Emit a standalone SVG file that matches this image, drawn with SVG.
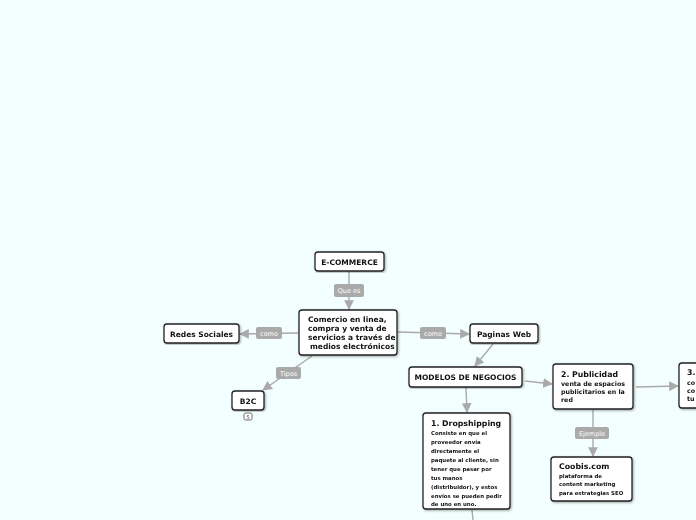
<svg xmlns="http://www.w3.org/2000/svg" width="696" height="520" viewBox="0 0 696 520">
<defs>
<style>
.n rect{fill:#fff;stroke:#222;stroke-width:1.3}
.t{font-family:"DejaVu Sans",sans-serif;font-weight:bold;fill:#111}
.s{font-size:7.5px}.x{font-size:5.4px}.h{font-size:7.8px}
.c line,.c path{stroke:#aaa;stroke-width:1.4;fill:none}
.l rect{fill:#aaa}
.l text{font-family:"DejaVu Sans",sans-serif;font-size:6.5px;fill:#fff;text-anchor:middle}
</style>
<marker id="a" viewBox="0 0 10 10" refX="9" refY="5" markerWidth="7" markerHeight="7" orient="auto"><path d="M0,0 L10,5 L0,10z" fill="#aaa"/></marker>
<filter id="sh"><feDropShadow dx="1" dy="1" stdDeviation="0.8" flood-opacity="0.35"/></filter>
</defs>
<rect width="696" height="520" fill="#f2fffe"/>
<g class="c">
<line x1="349" y1="272" x2="349" y2="309" marker-end="url(#a)"/>
<line x1="298" y1="333" x2="240" y2="334" marker-end="url(#a)"/>
<line x1="398" y1="332" x2="469" y2="334" marker-end="url(#a)"/>
<line x1="312" y1="356" x2="263" y2="390" marker-end="url(#a)"/>
<line x1="493" y1="344" x2="475" y2="366" marker-end="url(#a)"/>
<line x1="466" y1="388" x2="467" y2="412" marker-end="url(#a)"/>
<line x1="525" y1="381" x2="552" y2="384" marker-end="url(#a)"/>
<line x1="636" y1="387" x2="678" y2="386" marker-end="url(#a)"/>
<line x1="593" y1="410" x2="593" y2="456" marker-end="url(#a)"/>
<line x1="472" y1="510" x2="473" y2="520"/>
</g>
<g class="l">
<rect x="334" y="284" width="30" height="13" rx="2"/><text x="349" y="293">Que es</text>
<rect x="256" y="327" width="26" height="12" rx="2"/><text x="269" y="336">como</text>
<rect x="420" y="327" width="26" height="12" rx="2"/><text x="433" y="336">como</text>
<rect x="276" y="367" width="25" height="12" rx="2"/><text x="288.5" y="376">Tipos</text>
<rect x="575" y="427" width="34" height="12" rx="2"/><text x="592" y="436">Ejemplo</text>
</g>
<g id="ecommerce" class="n" filter="url(#sh)"><rect x="315" y="252" width="69" height="19" rx="3"/><text class="t s" x="349.5" y="264.5" text-anchor="middle">E-COMMERCE</text></g>
<g id="comercio" class="n" filter="url(#sh)"><rect x="299" y="310" width="98" height="45" rx="3"/>
<text class="t s" x="308" y="322">Comercio en linea,</text><text class="t s" x="308" y="331">compra y venta de</text><text class="t s" x="308" y="340">servicios a través de</text><text class="t s" x="310" y="349">medios electrónicos</text></g>
<g id="redes" class="n" filter="url(#sh)"><rect x="164" y="324" width="75" height="19" rx="3"/><text class="t s" x="201.5" y="336.5" text-anchor="middle">Redes Sociales</text></g>
<g id="paginas" class="n" filter="url(#sh)"><rect x="470" y="324" width="68" height="19" rx="3"/><text class="t s" x="504" y="336.5" text-anchor="middle">Paginas Web</text></g>
<g id="b2c" class="n" filter="url(#sh)"><rect x="232" y="391" width="32" height="19" rx="3"/><text class="t s" x="248" y="403.5" text-anchor="middle">B2C</text></g>
<g id="badge"><rect x="244" y="413" width="8" height="7" rx="1.5" fill="#fff" stroke="#333" stroke-width="0.7"/><text x="248" y="418.5" font-family="DejaVu Sans,sans-serif" font-size="5px" text-anchor="middle" fill="#333">5</text></g>
<g id="modelos" class="n" filter="url(#sh)"><rect x="409" y="367" width="113" height="20" rx="3"/><text class="t s" x="465.5" y="380" text-anchor="middle">MODELOS DE NEGOCIOS</text></g>
<g id="drop" class="n" filter="url(#sh)"><rect x="423" y="413" width="87" height="96" rx="3"/>
<text class="t h" x="431" y="426">1. Dropshipping</text>
<text class="t x" x="431" y="434.5">Consiste en que el</text><text class="t x" x="431" y="443.5">proveedor envía</text><text class="t x" x="431" y="452.5">directamente el</text><text class="t x" x="431" y="461.5">paquete al cliente, sin</text><text class="t x" x="431" y="470.5">tener que pasar por</text><text class="t x" x="431" y="479.5">tus manos</text><text class="t x" x="431" y="488.5">(distribuidor), y estos</text><text class="t x" x="431" y="497.5">envíos se pueden pedir</text><text class="t x" x="431" y="506">de uno en uno.</text></g>
<g id="publicidad" class="n" filter="url(#sh)"><rect x="553" y="364" width="80" height="45" rx="3"/>
<text class="t h" x="561" y="377">2. Publicidad</text><text class="t x" x="561" y="386" style="font-size:6.3px">venta de espacios</text><text class="t x" x="561" y="394" style="font-size:6.3px">publicitarios en la</text><text class="t x" x="561" y="402" style="font-size:6.3px">red</text></g>
<g id="tres" class="n" filter="url(#sh)"><rect x="679" y="363" width="30" height="45" rx="3"/>
<text class="t h" x="687" y="375">3.</text><text class="t x" x="687" y="385" style="font-size:6.3px">co</text><text class="t x" x="687" y="393" style="font-size:6.3px">co</text><text class="t x" x="687" y="401" style="font-size:6.3px">tu</text></g>
<g id="coobis" class="n" filter="url(#sh)"><rect x="551" y="457" width="81" height="44" rx="3"/>
<text class="t h" x="559" y="469">Coobis.com</text><text class="t x" x="559" y="478">plataforma de</text><text class="t x" x="559" y="486">content marketing</text><text class="t x" x="559" y="495">para estrategias SEO</text></g>
</svg>
